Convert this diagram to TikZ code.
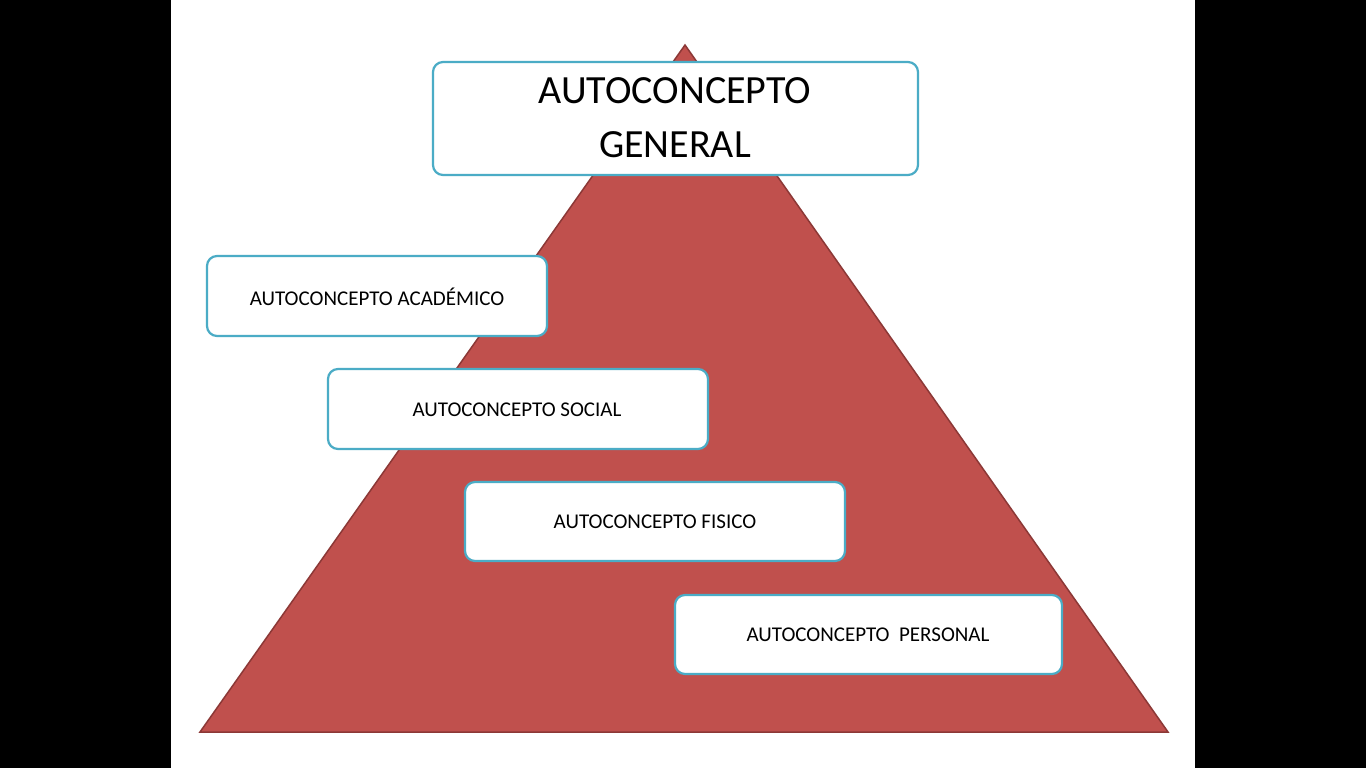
\documentclass[tikz,border=0pt]{standalone}
\usepackage{fontspec}
\setmainfont{Carlito}
\definecolor{tri}{HTML}{C0504D}
\definecolor{triedge}{HTML}{8C3836}
\definecolor{bx}{HTML}{4BACC6}
\begin{document}
\begin{tikzpicture}[x=1pt,y=-1pt,
  box/.style={draw=bx,line width=2.2pt,fill=white,rounded corners=10pt},
  lbl/.style={font=\fontsize{21}{25}\selectfont}]
\useasboundingbox (0,0) rectangle (1366,768);
\fill[black] (0,0) rectangle (171,768);
\fill[black] (1195,0) rectangle (1366,768);
\fill[white] (171,0) rectangle (1195,768);
\draw[fill=tri,draw=triedge,line width=1.5pt] (685,45) -- (1168,732) -- (200,732) -- cycle;
\draw[box] (433,62) rectangle (918,175);
\node[font=\fontsize{40}{54}\selectfont,align=center] (g) at (675,118) {AUTOCONCEPTO\\GENERAL};
\draw[box] (207,256) rectangle (547,336);
\node[lbl] (a) at (377,297) {AUTOCONCEPTO ACADÉMICO};
\draw[box] (328,369) rectangle (708,449);
\node[lbl] (s) at (517,410) {AUTOCONCEPTO SOCIAL};
\draw[box] (465,482) rectangle (845,561);
\node[lbl] (f) at (655,522) {AUTOCONCEPTO FISICO};
\draw[box] (675,595) rectangle (1062,674);
\node[lbl] (p) at (868,635) {AUTOCONCEPTO\ \ PERSONAL};
\end{tikzpicture}
\end{document}
